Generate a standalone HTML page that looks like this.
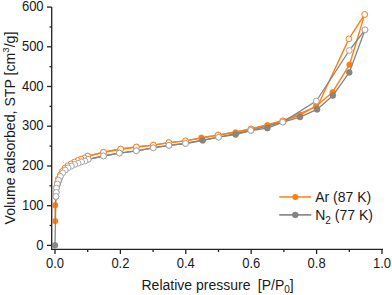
<!DOCTYPE html>
<html><head><meta charset="utf-8"><style>
html,body{margin:0;padding:0;background:#fff;width:392px;height:295px;overflow:hidden}
svg{display:block;font-family:"Liberation Sans",sans-serif}
</style></head><body>
<svg width="392" height="295" viewBox="0 0 392 295">
<g stroke="#222" stroke-width="1.3" fill="none">
<path d="M51.7,7 V249.4 H383"/>
<path d="M47,245.4 H51.7"/>
<path d="M49.5,225.5 H51.7"/>
<path d="M47,205.7 H51.7"/>
<path d="M49.5,185.8 H51.7"/>
<path d="M47,166.0 H51.7"/>
<path d="M49.5,146.1 H51.7"/>
<path d="M47,126.2 H51.7"/>
<path d="M49.5,106.4 H51.7"/>
<path d="M47,86.5 H51.7"/>
<path d="M49.5,66.7 H51.7"/>
<path d="M47,46.8 H51.7"/>
<path d="M49.5,27.0 H51.7"/>
<path d="M47,7.1 H51.7"/>
<path d="M55.0,249.4 V254"/>
<path d="M87.7,249.4 V252"/>
<path d="M120.4,249.4 V254"/>
<path d="M153.1,249.4 V252"/>
<path d="M185.8,249.4 V254"/>
<path d="M218.5,249.4 V252"/>
<path d="M251.2,249.4 V254"/>
<path d="M283.9,249.4 V252"/>
<path d="M316.6,249.4 V254"/>
<path d="M349.3,249.4 V252"/>
<path d="M382.0,249.4 V254"/>
</g>
<polyline fill="none" stroke="#ff8010" stroke-width="1.4" stroke-linejoin="round" points="55.2,221.1 55.2,205.2 55.9,196.5 64.9,168.2 87.7,156.1 103.5,152.2 120.7,149.0 136.4,147.0 153.3,145.1 168.9,142.6 185.5,140.9 201.4,137.7 218.3,135.0 235.6,132.3 251.5,128.9 267.4,125.1 283.5,121.0 300.0,115.0 316.0,106.2 332.6,92.2 349.5,64.7 364.7,14.4"/>
<polyline fill="none" stroke="#ff8010" stroke-width="1.4" stroke-linejoin="round" points="364.7,14.4 348.9,38.9 317.8,105.8 282.7,120.8 250.8,129.0 218.0,135.1 185.5,140.9 168.9,142.6 153.3,145.1 136.4,147.0 120.7,149.0 103.5,152.2 87.7,156.1 84.4,158.0 81.1,159.1 77.7,160.6 74.4,162.0 71.0,163.9 67.8,165.8 64.9,168.2 62.4,171.3 60.2,174.9 58.3,179.0 57.2,183.0 56.4,187.4 56.3,192.0 55.9,196.5"/>
<circle cx="55.2" cy="221.1" r="2.9" fill="#ff8010" stroke="#ff8010" stroke-width="0.4"/><circle cx="55.2" cy="205.2" r="2.9" fill="#ff8010" stroke="#ff8010" stroke-width="0.4"/><circle cx="55.9" cy="196.5" r="2.9" fill="#ff8010" stroke="#ff8010" stroke-width="0.4"/><circle cx="64.9" cy="168.2" r="2.9" fill="#ff8010" stroke="#ff8010" stroke-width="0.4"/><circle cx="87.7" cy="156.1" r="2.9" fill="#ff8010" stroke="#ff8010" stroke-width="0.4"/><circle cx="103.5" cy="152.2" r="2.9" fill="#ff8010" stroke="#ff8010" stroke-width="0.4"/><circle cx="120.7" cy="149.0" r="2.9" fill="#ff8010" stroke="#ff8010" stroke-width="0.4"/><circle cx="136.4" cy="147.0" r="2.9" fill="#ff8010" stroke="#ff8010" stroke-width="0.4"/><circle cx="153.3" cy="145.1" r="2.9" fill="#ff8010" stroke="#ff8010" stroke-width="0.4"/><circle cx="168.9" cy="142.6" r="2.9" fill="#ff8010" stroke="#ff8010" stroke-width="0.4"/><circle cx="185.5" cy="140.9" r="2.9" fill="#ff8010" stroke="#ff8010" stroke-width="0.4"/><circle cx="201.4" cy="137.7" r="2.9" fill="#ff8010" stroke="#ff8010" stroke-width="0.4"/><circle cx="218.3" cy="135.0" r="2.9" fill="#ff8010" stroke="#ff8010" stroke-width="0.4"/><circle cx="235.6" cy="132.3" r="2.9" fill="#ff8010" stroke="#ff8010" stroke-width="0.4"/><circle cx="251.5" cy="128.9" r="2.9" fill="#ff8010" stroke="#ff8010" stroke-width="0.4"/><circle cx="267.4" cy="125.1" r="2.9" fill="#ff8010" stroke="#ff8010" stroke-width="0.4"/><circle cx="283.5" cy="121.0" r="2.9" fill="#ff8010" stroke="#ff8010" stroke-width="0.4"/><circle cx="300.0" cy="115.0" r="2.9" fill="#ff8010" stroke="#ff8010" stroke-width="0.4"/><circle cx="316.0" cy="106.2" r="2.9" fill="#ff8010" stroke="#ff8010" stroke-width="0.4"/><circle cx="332.6" cy="92.2" r="2.9" fill="#ff8010" stroke="#ff8010" stroke-width="0.4"/><circle cx="349.5" cy="64.7" r="2.9" fill="#ff8010" stroke="#ff8010" stroke-width="0.4"/><circle cx="364.7" cy="14.4" r="2.9" fill="#ff8010" stroke="#ff8010" stroke-width="0.4"/>
<circle cx="364.7" cy="14.4" r="2.9" fill="#fff" stroke="#ff8010" stroke-width="1.0"/><circle cx="348.9" cy="38.9" r="2.9" fill="#fff" stroke="#ff8010" stroke-width="1.0"/><circle cx="282.7" cy="120.8" r="2.9" fill="#fff" stroke="#ff8010" stroke-width="1.0"/><circle cx="250.8" cy="129.0" r="2.9" fill="#fff" stroke="#ff8010" stroke-width="1.0"/><circle cx="218.0" cy="135.1" r="2.9" fill="#fff" stroke="#ff8010" stroke-width="1.0"/><circle cx="185.5" cy="140.9" r="2.9" fill="#fff" stroke="#ff8010" stroke-width="1.0"/><circle cx="168.9" cy="142.6" r="2.9" fill="#fff" stroke="#ff8010" stroke-width="1.0"/><circle cx="153.3" cy="145.1" r="2.9" fill="#fff" stroke="#ff8010" stroke-width="1.0"/><circle cx="136.4" cy="147.0" r="2.9" fill="#fff" stroke="#ff8010" stroke-width="1.0"/><circle cx="120.7" cy="149.0" r="2.9" fill="#fff" stroke="#ff8010" stroke-width="1.0"/><circle cx="103.5" cy="152.2" r="2.9" fill="#fff" stroke="#ff8010" stroke-width="1.0"/><circle cx="87.7" cy="156.1" r="2.9" fill="#fff" stroke="#ff8010" stroke-width="1.0"/><circle cx="84.4" cy="158.0" r="2.9" fill="#fff" stroke="#ff8010" stroke-width="1.0"/><circle cx="81.1" cy="159.1" r="2.9" fill="#fff" stroke="#ff8010" stroke-width="1.0"/><circle cx="77.7" cy="160.6" r="2.9" fill="#fff" stroke="#ff8010" stroke-width="1.0"/><circle cx="74.4" cy="162.0" r="2.9" fill="#fff" stroke="#ff8010" stroke-width="1.0"/><circle cx="71.0" cy="163.9" r="2.9" fill="#fff" stroke="#ff8010" stroke-width="1.0"/><circle cx="67.8" cy="165.8" r="2.9" fill="#fff" stroke="#ff8010" stroke-width="1.0"/><circle cx="64.9" cy="168.2" r="2.9" fill="#fff" stroke="#ff8010" stroke-width="1.0"/><circle cx="62.4" cy="171.3" r="2.9" fill="#fff" stroke="#ff8010" stroke-width="1.0"/><circle cx="60.2" cy="174.9" r="2.9" fill="#fff" stroke="#ff8010" stroke-width="1.0"/><circle cx="58.3" cy="179.0" r="2.9" fill="#fff" stroke="#ff8010" stroke-width="1.0"/><circle cx="57.2" cy="183.0" r="2.9" fill="#fff" stroke="#ff8010" stroke-width="1.0"/><circle cx="56.4" cy="187.4" r="2.9" fill="#fff" stroke="#ff8010" stroke-width="1.0"/><circle cx="56.3" cy="192.0" r="2.9" fill="#fff" stroke="#ff8010" stroke-width="1.0"/><circle cx="55.9" cy="196.5" r="2.9" fill="#fff" stroke="#ff8010" stroke-width="1.0"/>
<polyline fill="none" stroke="#858585" stroke-width="1.3" stroke-linejoin="round" points="55.0,245.3 55.9,196.5 65.2,170.0 88.3,159.3 103.5,156.0 119.4,153.1 136.4,150.8 153.3,147.8 168.9,145.3 185.5,143.5 202.7,140.4 218.6,137.2 235.6,134.6 251.0,130.5 267.4,128.2 283.0,122.1 300.0,117.1 317.1,109.4 332.9,95.6 349.3,72.4 365.0,30.0"/>
<polyline fill="none" stroke="#858585" stroke-width="1.3" stroke-linejoin="round" points="365.0,29.8 349.3,50.5 316.3,101.0 282.7,122.1 250.8,130.4 218.6,137.2 185.5,143.5 168.9,145.3 153.3,147.8 136.4,150.8 119.4,153.1 103.5,156.0 88.3,159.3 85.0,161.0 81.6,161.9 78.2,163.2 74.8,164.4 71.4,166.1 68.1,167.8 65.2,170.0 62.7,172.9 60.4,176.3 58.5,180.2 57.3,183.9 56.5,188.1 56.3,192.4 55.9,196.5"/>
<circle cx="55.0" cy="245.3" r="2.9" fill="#878787" stroke="#7a7a7a" stroke-width="0.6"/><circle cx="55.9" cy="196.5" r="2.9" fill="#878787" stroke="#7a7a7a" stroke-width="0.6"/><circle cx="65.2" cy="170.0" r="2.9" fill="#878787" stroke="#7a7a7a" stroke-width="0.6"/><circle cx="88.3" cy="159.3" r="2.9" fill="#878787" stroke="#7a7a7a" stroke-width="0.6"/><circle cx="103.5" cy="156.0" r="2.9" fill="#878787" stroke="#7a7a7a" stroke-width="0.6"/><circle cx="119.4" cy="153.1" r="2.9" fill="#878787" stroke="#7a7a7a" stroke-width="0.6"/><circle cx="136.4" cy="150.8" r="2.9" fill="#878787" stroke="#7a7a7a" stroke-width="0.6"/><circle cx="153.3" cy="147.8" r="2.9" fill="#878787" stroke="#7a7a7a" stroke-width="0.6"/><circle cx="168.9" cy="145.3" r="2.9" fill="#878787" stroke="#7a7a7a" stroke-width="0.6"/><circle cx="185.5" cy="143.5" r="2.9" fill="#878787" stroke="#7a7a7a" stroke-width="0.6"/><circle cx="202.7" cy="140.4" r="2.9" fill="#878787" stroke="#7a7a7a" stroke-width="0.6"/><circle cx="218.6" cy="137.2" r="2.9" fill="#878787" stroke="#7a7a7a" stroke-width="0.6"/><circle cx="235.6" cy="134.6" r="2.9" fill="#878787" stroke="#7a7a7a" stroke-width="0.6"/><circle cx="251.0" cy="130.5" r="2.9" fill="#878787" stroke="#7a7a7a" stroke-width="0.6"/><circle cx="267.4" cy="128.2" r="2.9" fill="#878787" stroke="#7a7a7a" stroke-width="0.6"/><circle cx="283.0" cy="122.1" r="2.9" fill="#878787" stroke="#7a7a7a" stroke-width="0.6"/><circle cx="300.0" cy="117.1" r="2.9" fill="#878787" stroke="#7a7a7a" stroke-width="0.6"/><circle cx="317.1" cy="109.4" r="2.9" fill="#878787" stroke="#7a7a7a" stroke-width="0.6"/><circle cx="332.9" cy="95.6" r="2.9" fill="#878787" stroke="#7a7a7a" stroke-width="0.6"/><circle cx="349.3" cy="72.4" r="2.9" fill="#878787" stroke="#7a7a7a" stroke-width="0.6"/><circle cx="365.0" cy="30.0" r="2.9" fill="#878787" stroke="#7a7a7a" stroke-width="0.6"/>
<circle cx="365.0" cy="29.8" r="2.9" fill="#fff" stroke="#a8a8a8" stroke-width="1.0"/><circle cx="349.3" cy="50.5" r="2.9" fill="#fff" stroke="#a8a8a8" stroke-width="1.0"/><circle cx="316.3" cy="101.0" r="2.9" fill="#fff" stroke="#a8a8a8" stroke-width="1.0"/><circle cx="282.7" cy="122.1" r="2.9" fill="#fff" stroke="#a8a8a8" stroke-width="1.0"/><circle cx="250.8" cy="130.4" r="2.9" fill="#fff" stroke="#a8a8a8" stroke-width="1.0"/><circle cx="218.6" cy="137.2" r="2.9" fill="#fff" stroke="#a8a8a8" stroke-width="1.0"/><circle cx="185.5" cy="143.5" r="2.9" fill="#fff" stroke="#a8a8a8" stroke-width="1.0"/><circle cx="168.9" cy="145.3" r="2.9" fill="#fff" stroke="#a8a8a8" stroke-width="1.0"/><circle cx="153.3" cy="147.8" r="2.9" fill="#fff" stroke="#a8a8a8" stroke-width="1.0"/><circle cx="136.4" cy="150.8" r="2.9" fill="#fff" stroke="#a8a8a8" stroke-width="1.0"/><circle cx="119.4" cy="153.1" r="2.9" fill="#fff" stroke="#a8a8a8" stroke-width="1.0"/><circle cx="103.5" cy="156.0" r="2.9" fill="#fff" stroke="#a8a8a8" stroke-width="1.0"/><circle cx="88.3" cy="159.3" r="2.9" fill="#fff" stroke="#a8a8a8" stroke-width="1.0"/><circle cx="85.0" cy="161.0" r="2.9" fill="#fff" stroke="#a8a8a8" stroke-width="1.0"/><circle cx="81.6" cy="161.9" r="2.9" fill="#fff" stroke="#a8a8a8" stroke-width="1.0"/><circle cx="78.2" cy="163.2" r="2.9" fill="#fff" stroke="#a8a8a8" stroke-width="1.0"/><circle cx="74.8" cy="164.4" r="2.9" fill="#fff" stroke="#a8a8a8" stroke-width="1.0"/><circle cx="71.4" cy="166.1" r="2.9" fill="#fff" stroke="#a8a8a8" stroke-width="1.0"/><circle cx="68.1" cy="167.8" r="2.9" fill="#fff" stroke="#a8a8a8" stroke-width="1.0"/><circle cx="65.2" cy="170.0" r="2.9" fill="#fff" stroke="#a8a8a8" stroke-width="1.0"/><circle cx="62.7" cy="172.9" r="2.9" fill="#fff" stroke="#a8a8a8" stroke-width="1.0"/><circle cx="60.4" cy="176.3" r="2.9" fill="#fff" stroke="#a8a8a8" stroke-width="1.0"/><circle cx="58.5" cy="180.2" r="2.9" fill="#fff" stroke="#a8a8a8" stroke-width="1.0"/><circle cx="57.3" cy="183.9" r="2.9" fill="#fff" stroke="#a8a8a8" stroke-width="1.0"/><circle cx="56.5" cy="188.1" r="2.9" fill="#fff" stroke="#a8a8a8" stroke-width="1.0"/><circle cx="56.3" cy="192.4" r="2.9" fill="#fff" stroke="#a8a8a8" stroke-width="1.0"/><circle cx="55.9" cy="196.5" r="2.9" fill="#fff" stroke="#a8a8a8" stroke-width="1.0"/>
<g font-size="13" fill="#1a1a1a"><text transform="translate(43.6,249.50) scale(1,1.06)" text-anchor="end">0</text>
<text transform="translate(43.6,209.78) scale(1,1.06)" text-anchor="end">100</text>
<text transform="translate(43.6,170.07) scale(1,1.06)" text-anchor="end">200</text>
<text transform="translate(43.6,130.35) scale(1,1.06)" text-anchor="end">300</text>
<text transform="translate(43.6,90.63) scale(1,1.06)" text-anchor="end">400</text>
<text transform="translate(43.6,50.92) scale(1,1.06)" text-anchor="end">500</text>
<text transform="translate(43.6,11.20) scale(1,1.06)" text-anchor="end">600</text>
<text transform="translate(55.00,267.9) scale(1,1.08)" text-anchor="middle">0.0</text>
<text transform="translate(120.40,267.9) scale(1,1.08)" text-anchor="middle">0.2</text>
<text transform="translate(185.80,267.9) scale(1,1.08)" text-anchor="middle">0.4</text>
<text transform="translate(251.20,267.9) scale(1,1.08)" text-anchor="middle">0.6</text>
<text transform="translate(316.60,267.9) scale(1,1.08)" text-anchor="middle">0.8</text>
<text transform="translate(382.00,267.9) scale(1,1.08)" text-anchor="middle">1.0</text></g>
<g font-size="14" fill="#1a1a1a" style="white-space:pre">
<text x="141.5" y="289.8">Relative pressure <tspan dx="3.5">[P/P</tspan><tspan font-size="10" dy="3.3">0</tspan><tspan dy="-3.3">]</tspan></text>
<text font-size="14.15" transform="translate(15.2,224.5) rotate(-90)">Volume adsorbed, STP [cm<tspan font-size="9.5" dy="-6">3</tspan><tspan dy="6">/g]</tspan></text>
</g>
<path d="M279.3,197.0 H311.3" stroke="#ff8010" stroke-width="1.7"/>
<circle cx="295.3" cy="197.0" r="3.0" fill="#ff8010"/>
<path d="M279.3,214.9 H311.3" stroke="#8c8c8c" stroke-width="1.6"/>
<circle cx="295.3" cy="214.9" r="2.9" fill="#848484" stroke="#777" stroke-width="0.6"/>
<g font-size="14" fill="#1a1a1a" style="white-space:pre">
<text x="315.2" y="201.8">Ar (87 K)</text>
<text x="315.2" y="219.9">N<tspan font-size="10" dy="4.3">2</tspan><tspan dy="-4.3"> (77 K)</tspan></text>
</g>
</svg>
</body></html>
